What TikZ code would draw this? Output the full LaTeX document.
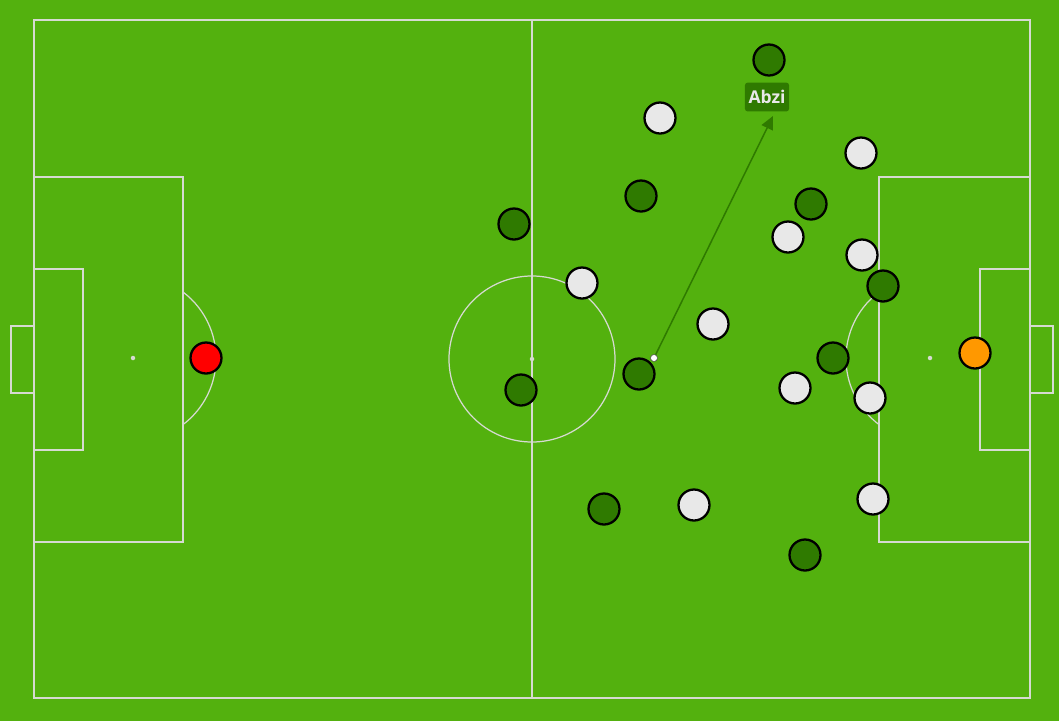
\documentclass[tikz,border=0pt]{standalone}
\usepackage{fontspec}
\setsansfont{Open Sans}
\usetikzlibrary{calc, arrows.meta}
\definecolor{pitchgreen}{RGB}{83,177,14}
\definecolor{linegrey}{RGB}{214,218,210}
\definecolor{teamgreen}{RGB}{47,122,0}
\definecolor{teamwhite}{RGB}{232,232,232}
\definecolor{keeperorange}{RGB}{255,152,0}

\begin{document}
\begin{tikzpicture}[x=0.02cm, y=-0.02cm]
	\tikzstyle{pitchline}=[draw=linegrey, line width=0.7pt]
	\tikzstyle{player}=[circle, draw=black, line width=1.3pt, minimum size=0.62cm, inner sep=0pt]
	\tikzstyle{home}=[player, fill=teamgreen]
	\tikzstyle{away}=[player, fill=teamwhite]
	\tikzstyle{spot}=[circle, fill=linegrey, minimum size=0.09cm, inner sep=0pt]
	\tikzstyle{namebox}=[rectangle, rounded corners=1.5pt, fill=teamgreen, text=teamwhite,
	font=\sffamily\bfseries\fontsize{10}{11}\selectfont, inner xsep=2pt,
	minimum height=16.4pt]

	\fill[pitchgreen] (0,0) rectangle (1059,721);
	\useasboundingbox (0,0) rectangle (1059,721);

	% pitch
	\draw[pitchline] (34,20) rectangle (1030,698);
	\draw[pitchline, line width=1pt] (532,20) -- (532,698);
	\draw[pitchline] (532,359) circle[radius=83];
	\node[spot] (centrespot) at (532,359) {};
	\draw[pitchline] (34,177) rectangle (183,542);
	\draw[pitchline] (34,269) rectangle (83,450);
	\draw[pitchline] (11,326) rectangle (34,393);
	\node[spot] (leftspot) at (133,358) {};
	\draw[pitchline] (183,292) arc[start angle=-53, end angle=53, radius=83];
	\draw[pitchline] (879,177) rectangle (1030,542);
	\draw[pitchline] (980,269) rectangle (1030,450);
	\draw[pitchline] (1030,326) rectangle (1053,393);
	\node[spot] (rightspot) at (930,358) {};
	\draw[pitchline] (879,292) arc[start angle=233, end angle=127, radius=83];

	% goalkeepers
	\node[player, fill=red] (keeperL) at (206,358) {};
	\node[player, fill=keeperorange] (keeperR) at (975,353) {};

	% green team
	\node[home] (g1) at (769,60) {};
	\node[home] (g2) at (641,196) {};
	\node[home] (g3) at (514,224) {};
	\node[home] (g4) at (811,204) {};
	\node[home] (g5) at (883,286) {};
	\node[home] (g6) at (833,358) {};
	\node[home] (g7) at (521,390) {};
	\node[home] (g8) at (639,374) {};
	\node[home] (g9) at (604,509) {};
	\node[home] (g10) at (805,555) {};

	% white team
	\node[away] (w1) at (660,118) {};
	\node[away] (w2) at (861,153) {};
	\node[away] (w3) at (788,237) {};
	\node[away] (w4) at (862,255) {};
	\node[away] (w5) at (582,283) {};
	\node[away] (w6) at (713,324) {};
	\node[away] (w7) at (795,388) {};
	\node[away] (w8) at (870,398) {};
	\node[away] (w9) at (694,505) {};
	\node[away] (w10) at (873,499) {};

	% ball and pass
	\node[circle, draw=black!70, fill=white, line width=0.3pt, minimum size=0.14cm, inner sep=0pt] (ball) at (654,358) {};
	\node[namebox] (abzi) at (767,97) {Abzi};
	\coordinate (target) at (773,116);
	\draw[teamgreen, line width=0.85pt, -{Triangle[length=7.5pt, width=7pt]}] (ball) -- (target);
\end{tikzpicture}
\end{document}
